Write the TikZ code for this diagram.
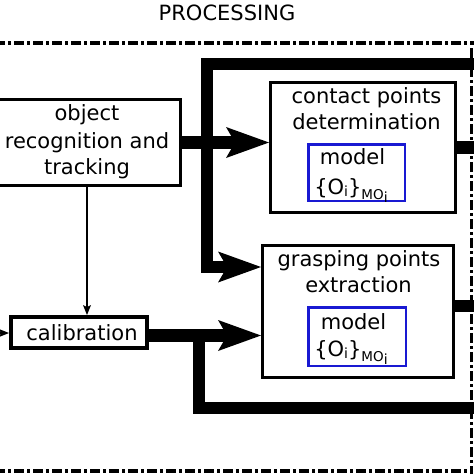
\documentclass[tikz,border=0pt]{standalone}
\usepackage{fontspec}
\setmainfont{DejaVu Sans}
\usetikzlibrary{arrows.meta}
\definecolor{mblue}{RGB}{25,25,210}
\newcommand{\modelset}{\{O\raisebox{-2.7pt}{\fontsize{14}{14}\selectfont i}\}\raisebox{-5.3pt}{\fontsize{13.5}{13.5}\selectfont MO\raisebox{-3.2pt}{\fontsize{14}{14}\selectfont i}}}
\begin{document}
\begin{tikzpicture}[x=1pt,y=-1pt,
  txt/.style={inner sep=0pt,anchor=base,font=\fontsize{21}{26}\selectfont},
  box/.style={draw,line width=3pt,inner sep=0pt},
  calbox/.style={draw,line width=4pt,inner sep=0pt},
  mbox/.style={draw=mblue,line width=2.5pt,inner sep=0pt},
  thinarrow/.style={line width=2.2pt,-{Stealth[length=10pt,width=8pt,inset=2pt,line width=0pt]}},
  fat/.style={line width=12.5pt},
  fatarrow/.style={line width=12.5pt,-{Stealth[length=43pt,width=31pt,inset=9pt,line width=0pt]}},
  frameline/.style={line width=3.5pt,dash pattern=on 10pt off 3pt on 3pt off 3pt}]
\useasboundingbox (0,0) rectangle (474,474);

% frame
\coordinate (frTL) at (-5,43); \coordinate (frTR) at (480,43);
\coordinate (frRT) at (471.5,48); \coordinate (frRB) at (471.5,480);
\coordinate (frBL) at (-5,471); \coordinate (frBR) at (469,471);
\draw[frameline] (frTL) -- (frTR);
\draw[frameline] (frRT) -- (frRB);
\draw[frameline] (frBL) -- (frBR);

\node[txt] (title) at (227,20) {PROCESSING};

% boxes
\node[box,minimum width=190.5pt,minimum height=86pt] (obj) at (85.25,142.5) {};
\node[box,minimum width=185pt,minimum height=130pt] (cp) at (363,147.5) {};
\node[mbox,minimum width=96.5pt,minimum height=56.5pt] (m1) at (356.5,172.5) {};
\node[box,minimum width=191pt,minimum height=132pt] (gp) at (358,311.5) {};
\node[mbox,minimum width=97.5pt,minimum height=58.5pt] (m2) at (357,336.5) {};
\node[calbox,minimum width=136pt,minimum height=31pt] (cal) at (79,332.5) {};

% texts
\node[txt] (t1) at (87,120) {object};
\node[txt] (t2) at (87,148) {recognition and};
\node[txt] (t3) at (87,174) {tracking};
\node[txt] (c1) at (366.5,103) {contact points};
\node[txt] (c2) at (366.5,129) {determination};
\node[txt] (m1a) at (352.5,164) {model};
\node[txt] (m1b) at (351,194) {\modelset};
\node[txt] (g1) at (359,266) {grasping points};
\node[txt] (g2) at (358.5,292) {extraction};
\node[txt] (m2a) at (353.5,329) {model};
\node[txt] (m2b) at (351,356) {\modelset};
\node[txt] (calt) at (82,340) {calibration};

% thin connectors
\draw[thinarrow] (t3.south |- obj.south) -- (t3.south |- cal.north);
\coordinate (calIn) at (-3,333);
\draw[thinarrow] (calIn) -- (cal.west |- calIn);

% thick connectors
\draw[fatarrow] (obj.east) -- (obj.east -| cp.west);
\coordinate (fbIn) at (480,64);
\coordinate (fbLow) at (207,267);
\draw[fatarrow] (fbIn) -| (fbLow) -- (fbLow -| gp.west);
\coordinate (calY) at (0,335.5);
\draw[fatarrow] (cal.east |- calY) -- (gp.west |- calY);
\coordinate (botIn) at (480,408);
\coordinate (botJoin) at (199,335.5);
\draw[fat] (botIn) -| (botJoin);
\coordinate (cpOut) at (480,147.5);
\draw[fat] (cp.east) -- (cpOut);
\coordinate (gpOut) at (480,306);
\draw[fat] (gp.east |- gpOut) -- (gpOut);
\end{tikzpicture}
\end{document}
